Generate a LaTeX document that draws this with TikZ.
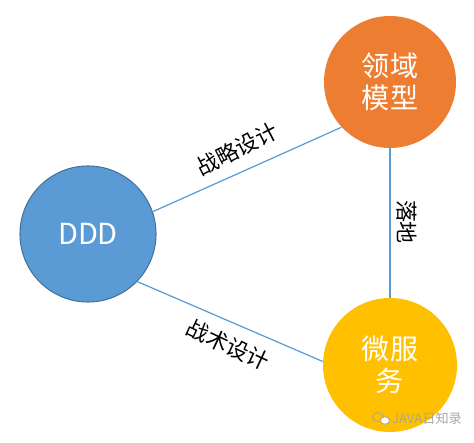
\documentclass[tikz,border=0pt]{standalone}
\usepackage{fontspec}
\setmainfont{Noto Sans CJK SC}
\usepackage{tikz}

\definecolor{dddblue}{HTML}{5B9BD5}
\definecolor{dddedge}{HTML}{41719C}
\definecolor{modelorange}{HTML}{ED7D31}
\definecolor{microyellow}{HTML}{FFC000}

\tikzset{
  ball/.style={circle, minimum size=#1, inner sep=0pt, align=center, text=white, font=\fontsize{16}{18.5}\selectfont},
  link/.style={draw=dddblue, line width=0.7pt},
  tag/.style={font=\fontsize{12.5}{15}\selectfont}
}

\begin{document}
\begin{tikzpicture}
\useasboundingbox (0,0) rectangle (9.48,8.84);

% Circles
\node[ball=2.72cm, fill=dddblue, draw=dddedge, line width=0.6pt] (ddd) at (1.76,4.16) {\fontsize{16.5}{20}\selectfont DDD};
\node[ball=2.64cm, fill=modelorange] (model) at (7.8,7.2) {领域\\模型};
\node[ball=2.68cm, fill=microyellow] (micro) at (7.8,1.54) {微服\\务};

% Lines
\draw[link] (ddd.19) -- (model.223);
\draw[link] (ddd.-44) -- (micro.177);
\draw[link] (model.south) -- (micro.north);

% Labels
\node[tag, rotate=27] (strategic) at (4.74,5.86) {战略设计};
\node[tag, rotate=-25] (tactical) at (4.56,1.94) {战术设计};
\node[tag, rotate=-90] (landing) at (8.14,4.4) {落地};

% Watermark
\node[text=gray!70, font=\fontsize{7.5}{9}\selectfont, inner sep=0pt] (mark) at (8.54,0.48) {JAVA日知录};
\draw[gray!70, line width=0.5pt] (7.56,0.5) ellipse (0.11 and 0.09);
\draw[gray!70, line width=0.5pt, fill=white] (7.7,0.43) ellipse (0.09 and 0.075);
\end{tikzpicture}
\end{document}
